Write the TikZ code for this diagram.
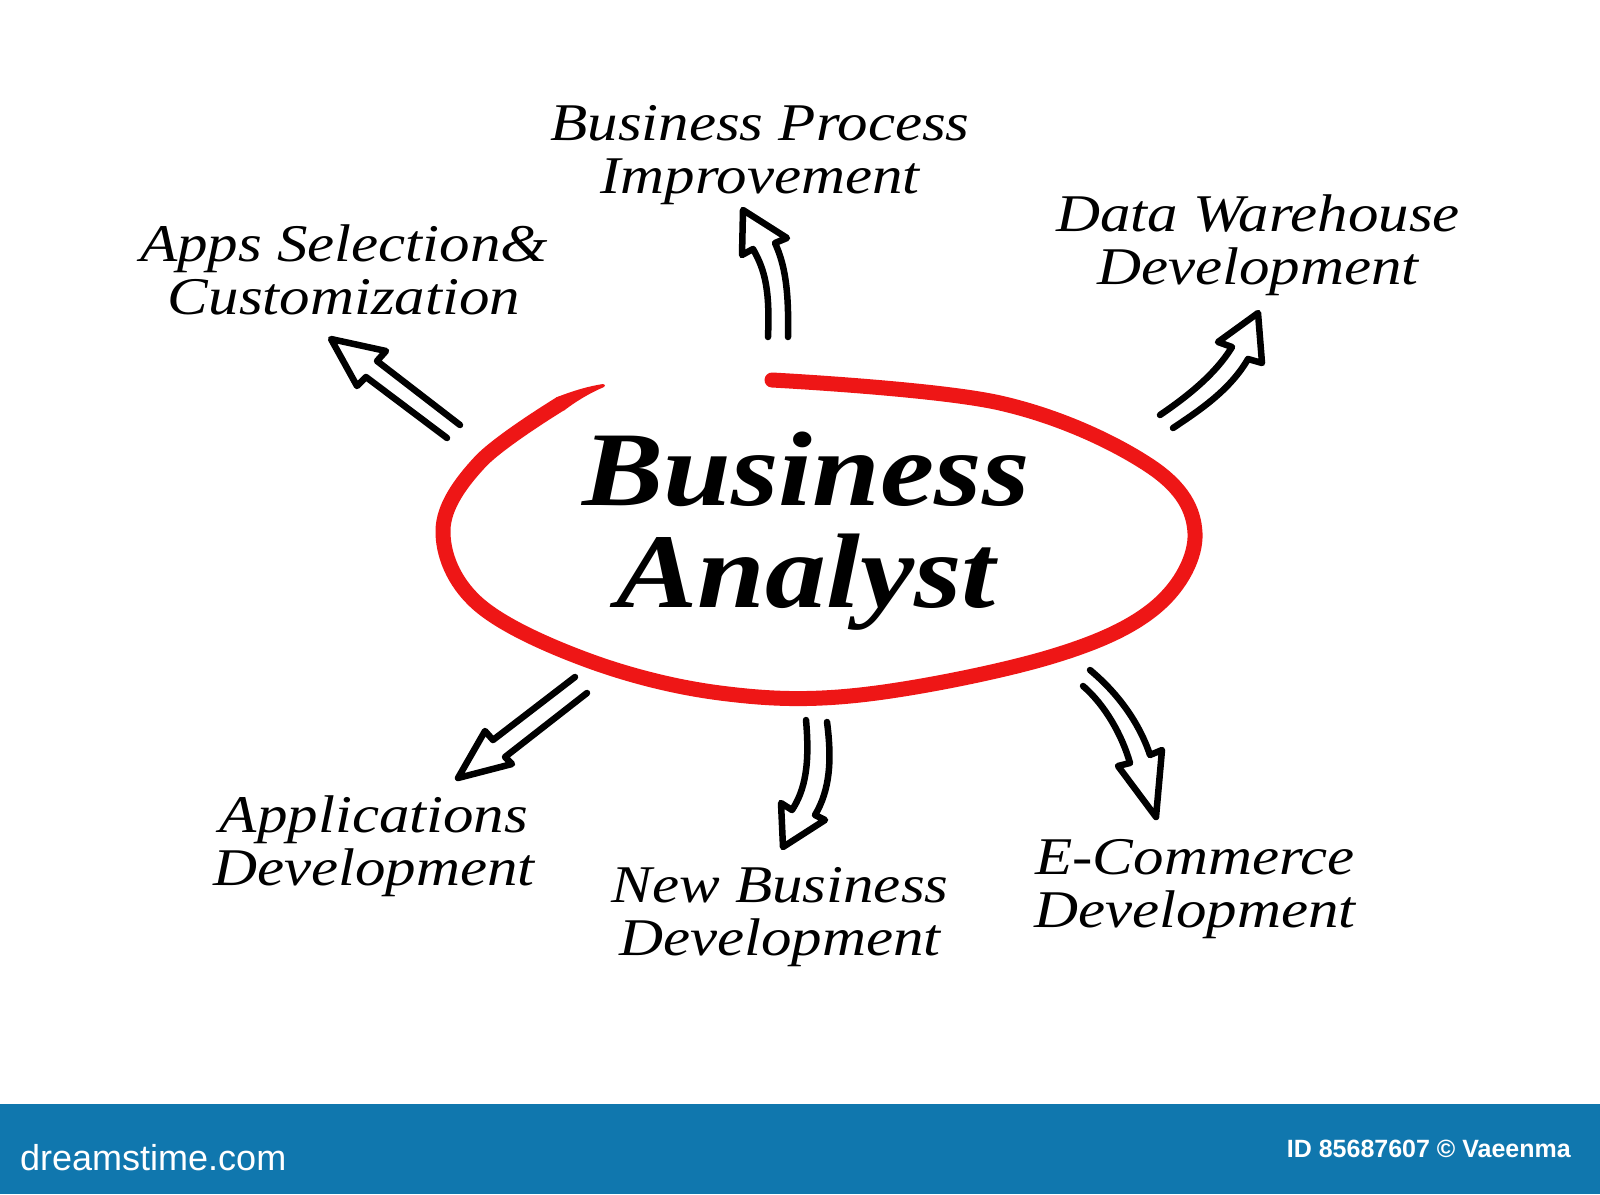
\documentclass[tikz,border=0pt]{standalone}
\usepackage{fontspec}
\newfontfamily\hand[FakeStretch=1.15]{Liberation Serif}
\newfontfamily\wmfont{Liberation Sans}
\definecolor{ringred}{RGB}{238,22,22}
\definecolor{barblue}{RGB}{16,119,174}
\begin{document}
\begin{tikzpicture}[x=1pt,y=-1pt,
  lbl/.style={font=\hand\itshape\fontsize{53}{53}\selectfont, align=center, text=black, inner sep=0pt},
  ctr/.style={font=\hand\itshape\bfseries\fontsize{106}{102}\selectfont, align=center, text=black, inner sep=0pt},
  arr/.style={draw=black, line width=6.5pt, line join=round, line cap=round},
  ring/.style={draw=ringred, line cap=round, line join=round},
  wm/.style={text=white, inner sep=0pt}]
\useasboundingbox (0,0) rectangle (1600,1194);
\fill[white] (0,0) rectangle (1600,1194);
\fill[barblue] (0,1104) rectangle (1600,1194);

% red hand-drawn ellipse
\draw[ring, line width=15pt] plot[smooth, tension=0.6] coordinates {
  (772,380) (1000,403) (1150,466) (1195,533) (1157,606) (1050,657)
  (860,695) (720,693) (587,660) (477,603) (443,530) (480,462) (560,404)};
% tapering end at top left
\fill[ringred] (556,397.5) .. controls (575,390) and (590,386) .. (603,384)
  .. controls (605,384) and (606,386) .. (604,387)
  .. controls (590,393) and (578,400) .. (564,410.5) -- cycle;

% texts
\node[ctr] (ba) at (806,531) {Business\\Analyst};
\node[lbl] (bpi) at (760,155) {Business Process\\Improvement};
\node[lbl] (apps) at (344,270) {Apps Selection\&\\Customization};
\node[lbl] (dw) at (1258,245) {Data Warehouse\\Development};
\node[lbl] (ad) at (374,846) {Applications\\Development};
\node[lbl] (nbd) at (780,917) {New Business\\Development};
\node[lbl] (ec) at (1195,889) {E-Commerce\\Development};

% hollow arrows
\draw[arr] (460,425) -- (377,361) -- (386,351) -- (331,339) -- (357,386) -- (366,377) -- (447,438);
\draw[arr] (768,337) .. controls (770,290) and (765,270) .. (753,249) -- (742,255) -- (743,210)
  -- (787,238) -- (775,243) .. controls (785,265) and (789,290) .. (788,337);
\draw[arr] (1160,415) .. controls (1185,398) and (1215,375) .. (1232,347) -- (1218,342) -- (1258,313)
  -- (1262,363) -- (1248,359) .. controls (1230,390) and (1200,410) .. (1173,428);
\draw[arr] (575,677) -- (493,740) -- (485,731) -- (458,778) -- (512,764) -- (505,757) -- (587,693);
\draw[arr] (806,720) .. controls (810,765) and (805,790) .. (792,810) -- (781,803) -- (783,847)
  -- (825,820) -- (815,815) .. controls (830,790) and (832,760) .. (827,722);
\draw[arr] (1083,686) .. controls (1105,705) and (1122,735) .. (1130,763) -- (1118,766) -- (1156,817)
  -- (1162,750) -- (1150,755) .. controls (1140,725) and (1120,695) .. (1090,670);

% bottom bar texts
\node[wm, anchor=west, font=\wmfont\fontsize{36}{36}\selectfont] (logo) at (20,1158) {dreamstime.com};
\node[wm, anchor=east, font=\wmfont\bfseries\fontsize{25}{25}\selectfont] (id) at (1571,1149) {ID 85687607 © Vaeenma};
\end{tikzpicture}
\end{document}
